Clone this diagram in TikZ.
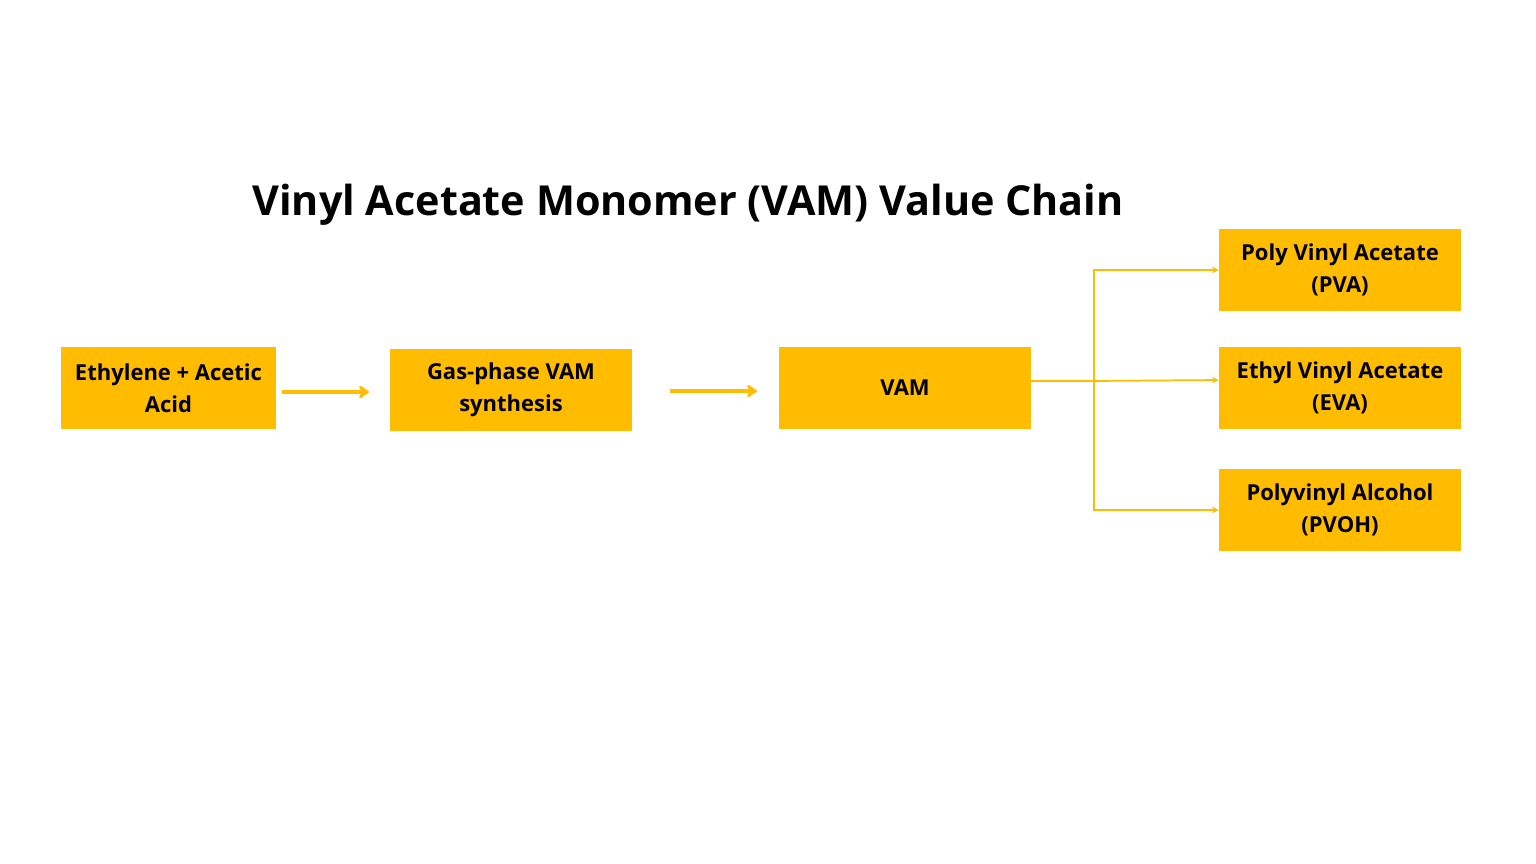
\documentclass[tikz,border=0pt]{standalone}
\usepackage{fontspec}
\setmainfont{Open Sans}
\usetikzlibrary{arrows.meta}
\definecolor{amber}{HTML}{FFBC00}
\begin{document}
\begin{tikzpicture}[x=0.75pt,y=-0.75pt,
  box/.style={fill=amber,draw=none,inner sep=0pt,align=center,font=\fontsize{16.5}{24}\selectfont\bfseries},
  thick arrow/.style={amber,line width=3pt,-{Stealth[length=9pt,width=12pt,round]}},
  thin arrow/.style={amber,line width=1.3pt,-{Stealth[length=5pt,width=5pt]}}]
\useasboundingbox (0,0) rectangle (1536,864);
\node[font=\fontsize{31}{36}\selectfont\bfseries] (title) at (688,205) {Vinyl Acetate Monomer (VAM) Value Chain};
\node[box,minimum width=161pt,minimum height=61.5pt] (a) at (168.5,388) {Ethylene + Acetic\\Acid};
\node[box,minimum width=181.5pt,minimum height=61.5pt] (b) at (511,390) {Gas-phase VAM\\synthesis};
\node[box,minimum width=189pt,minimum height=61.5pt] (c) at (905,388) {VAM};
\node[box,minimum width=181.5pt,minimum height=61.5pt] (d) at (1340,270) {Poly Vinyl Acetate\\(PVA)};
\node[box,minimum width=181.5pt,minimum height=61.5pt] (e) at (1340,388) {Ethyl Vinyl Acetate\\(EVA)};
\node[box,minimum width=181.5pt,minimum height=61.5pt] (f) at (1340,510) {Polyvinyl Alcohol\\(PVOH)};
\coordinate (a1) at (282,392); \coordinate (a2) at (369,392);
\coordinate (b1) at (670,391); \coordinate (b2) at (757,391);
\draw[thick arrow] (a1) -- (a2);
\draw[thick arrow] (b1) -- (b2);
\coordinate (j) at (1094,381);
\draw[amber,line width=1.3pt] (c.east |- j) -- (j);
\draw[thin arrow] (j) -- (1094,270) -- (d.west |- 0,270);
\draw[thin arrow] (j) -- (e.west |- 0,380);
\draw[thin arrow] (j) -- (1094,510) -- (f.west |- 0,510);
\end{tikzpicture}
\end{document}
